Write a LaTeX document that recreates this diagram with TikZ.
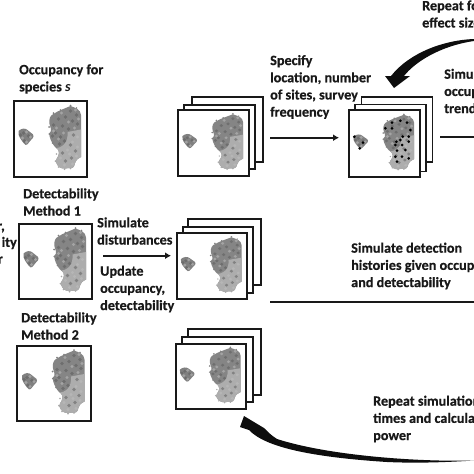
\documentclass[tikz,border=0pt]{standalone}
\usepackage{fontspec}
\setmainfont[BoldFeatures={FakeBold=0.5}]{Carlito}
\usetikzlibrary{arrows.meta}
\newcommand{\bigblobpath}{(20,-33) .. controls (25,-31) and (30,-30) .. (30.5,-24) -- (30.5,18) .. controls (27,20) and (25,21) .. (24.5,24) .. controls (24,28) and (22,30) .. (18,29) .. controls (14,30) and (9,30) .. (7,26) .. controls (5,24) and (5,22) .. (6,20) .. controls (9,16) and (9,12) .. (7,10) .. controls (3,8) and (-2,-2) .. (-1,-6) .. controls (2,-8) and (0,-12) .. (-1,-15) .. controls (-2,-20) and (0,-24) .. (3,-25) .. controls (7,-28) and (13,-30) .. (20,-33) -- cycle}
\newcommand{\smallblobpath}{(-32,-8) .. controls (-29,-11) and (-25,-11) .. (-23,-9) .. controls (-21,-6) and (-17,-6) .. (-17,-3) .. controls (-17,0) and (-21,1) .. (-22,4) .. controls (-24,7) and (-26,6) .. (-27,4) .. controls (-29,1) and (-33,-3) .. (-32,-8) -- cycle}
\newcommand{\speckdark}[1]{\foreach \px/\py in {#1}{\fill[black!65,opacity=.5] (\px,\py) circle (1.8pt);}}
\newcommand{\specklight}[1]{\foreach \px/\py in {#1}{\fill[black!25,opacity=.55] (\px,\py) circle (1.7pt);}}
\tikzset{
  lab/.style={anchor=west,inner sep=0pt,align=left,font=\fontsize{14.2}{17.2}\selectfont\bfseries,text=black!90},
  frame/.style={draw=black!90,fill=white,line width=1.9pt,inner sep=0pt,minimum width=#1pt},
  frame/.default=71,
  mapframe/.style={frame=#1,line width=2.4pt},
  flow/.style={draw=black!90,line width=1.8pt,-{Latex[length=6pt,width=7pt]}},
  plain/.style={draw=black!90,line width=2pt},
  blob/.pic={
    \begin{scope}
      \clip \smallblobpath;
      \fill[black!50] (-35,-13) rectangle (-14,9);
      \speckdark{-27/-6,-22/-3,-26/2,-30/-4}
      \specklight{-24/-7,-28/-1,-20/-2,-24/3}
    \end{scope}
    \begin{scope}
      \clip \bigblobpath;
      \fill[black!48] (-4,-36) rectangle (33,33);
      \fill[black!32] (17,-7) -- (33,-10) -- (33,33) -- (3,33) -- (3,9) .. controls (12,10) and (18,3) .. (17,-7) -- cycle;
      \speckdark{20/-28,26/-24,15/-22,22/-18,8/-20,3/-14,12/-13,27/-15,18/-10,5/-6,10/-2,2/-3,14/2,9/5,23/-4,20/6,12/14,25/12,15/22,21/19}
      \specklight{25/-29,11/-26,18/-17,6/-11,24/-11,13/-6,3/-8,8/0,27/-2,22/3,27/8,17/11,10/19,19/15,14/26,22/25,26/17,28/-20}
    \end{scope}
    \fill[black!50] (3,-26) circle (1pt) (10,-29) circle (.9pt) (20,-33.5) circle (1pt) (26,-31) circle (.8pt) (-1.3,-12) circle (1pt) (-1.2,-5) circle (1pt) (2,4) circle (.9pt);
    \fill[black!34] (6,15) circle (.8pt) (5,22) circle (1pt) (8,28) circle (.9pt) (14,30) circle (1pt) (20,29.5) circle (.9pt);
  }
}
\newcommand{\sitedots}[1]{\foreach \px/\py in {#1}{\fill[black] (\px,\py) circle (1.5pt);}}
\begin{document}
\begin{tikzpicture}[x=1pt,y=-1pt]
\useasboundingbox (0,0) rectangle (474,474);
\begin{scope}
\clip (0,0) rectangle (474,474);
\fill[white] (0,0) rectangle (474,474);

% single maps
\node[mapframe=73,minimum height=76pt] (m1) at (50.5,139) {};
\pic at (m1) {blob};
\node[mapframe=73,minimum height=75pt] (m2) at (55.5,261.5) {};
\pic at (m2) {blob};
\node[mapframe=74,minimum height=75pt] (m3) at (54,383.5) {};
\pic at (m3) {blob};

% stack 1
\node[frame,minimum height=65pt] (s1c) at (227.5,129.5) {};
\node[frame,minimum height=64pt] (s1b) at (219.5,137) {};
\node[frame,minimum height=66pt] (s1a) at (213.5,143) {};
\pic[yscale=.87,xscale=.97] at (s1a) {blob};
% stack 2 (with sites)
\node[frame,minimum height=65pt] (s2c) at (397,129.5) {};
\node[frame,minimum height=67pt] (s2b) at (390.5,138) {};
\node[frame,minimum height=67pt] (s2a) at (384.5,143.5) {};
\pic[yscale=.87,xscale=.97] at (s2a) {blob};
\sitedots{392/122.7,400.3/120.7,407/122.7,385.3/128.3,392/128.3,410.3/130,402.7/136.7,408.7/136.7,400.3/140,396.3/141.7,408.7/141.7,395.3/145,402/145,397/150.7,405.3/150,395.3/156.7,402/156.7,408.7/158.3,397/161.7,363/142.7,359.7/148.3,354.3/136.7}
% stack 3
\node[frame=73,minimum height=66pt] (s3c) at (224.5,252) {};
\node[frame=70,minimum height=66pt] (s3b) at (218,260) {};
\node[frame=70,minimum height=66pt] (s3a) at (212,266) {};
\pic[yscale=.87,xscale=.97] at (s3a) {blob};
% stack 4
\node[frame=73,minimum height=66pt] (s4c) at (224.5,362) {};
\node[frame,minimum height=65pt] (s4b) at (217.5,369.5) {};
\node[frame=70,minimum height=65pt] (s4a) at (211,376.5) {};
\pic[yscale=.87,xscale=.97] at (s4a) {blob};

% texts (anchored at the vertical centre of the block)
\node[lab] (t1) at (19,79) {Occupancy for\\species \textit{s}};
\node[lab] (t2) at (23,202) {Detectability\\Method 1};
\node[lab] (t3) at (21,326) {Detectability\\Method 2};
\node[lab,anchor=east] (t4a) at (5,228) {r,};
\node[lab,anchor=east] (t4b) at (17,243) {ity};
\node[lab,anchor=east] (t4c) at (3,260) {r};
\node[lab] (t5) at (97,231) {Simulate\\disturbances};
\node[lab] (t6) at (100,289) {Update\\occupancy,\\detectability};
\node[lab] (t7) at (270,87) {Specify\\location, number\\of sites, survey\\frequency};
\node[lab] (t8) at (422,14) {Repeat for\\effect size};
\node[lab] (t9) at (444,91) {Simulate\\occupancy\\trend};
\node[lab] (t10) at (351,266) {Simulate detection\\histories given occupancy\\and detectability};
\node[lab] (t11) at (373,419) {Repeat simulation\\times and calculate\\power};

% connectors
\coordinate (e1) at (339,137.7);
\coordinate (e2) at (270,137.7);
\draw[flow] (e2) -- (e1);
\coordinate (d1) at (103,255.7);
\coordinate (d2) at (171,255.7);
\draw[flow] (d1) -- (d2);
\coordinate (r1) at (440,137);
\coordinate (r2) at (474,137);
\draw[plain] (r1) -- (r2);
\coordinate (h1) at (270,302);
\coordinate (h2) at (474,302);
\draw[plain] (h1) -- (h2);

% thick curved arrow top
\coordinate (c1) at (474,39);
\coordinate (c2) at (394,88);
\fill[black!95] (c1) .. controls (445,40) and (410,52) .. (391,76) -- (385,76) -- (c2) -- (410,76) -- (404,76) .. controls (415,62) and (440,46) .. (474,41) -- cycle;
% thick curved arrow bottom
\coordinate (b1) at (474,460.5);
\coordinate (b2) at (244,416);
\fill[black!95] (b1) .. controls (420,462) and (330,456) .. (277,439) .. controls (272,436) and (268,432) .. (264,428) -- (b2) -- (240,427) -- (249,430) .. controls (265,447) and (310,457) .. (387,462) .. controls (420,463.5) and (450,462) .. (b1) -- cycle;
\end{scope}
\end{tikzpicture}
\end{document}
